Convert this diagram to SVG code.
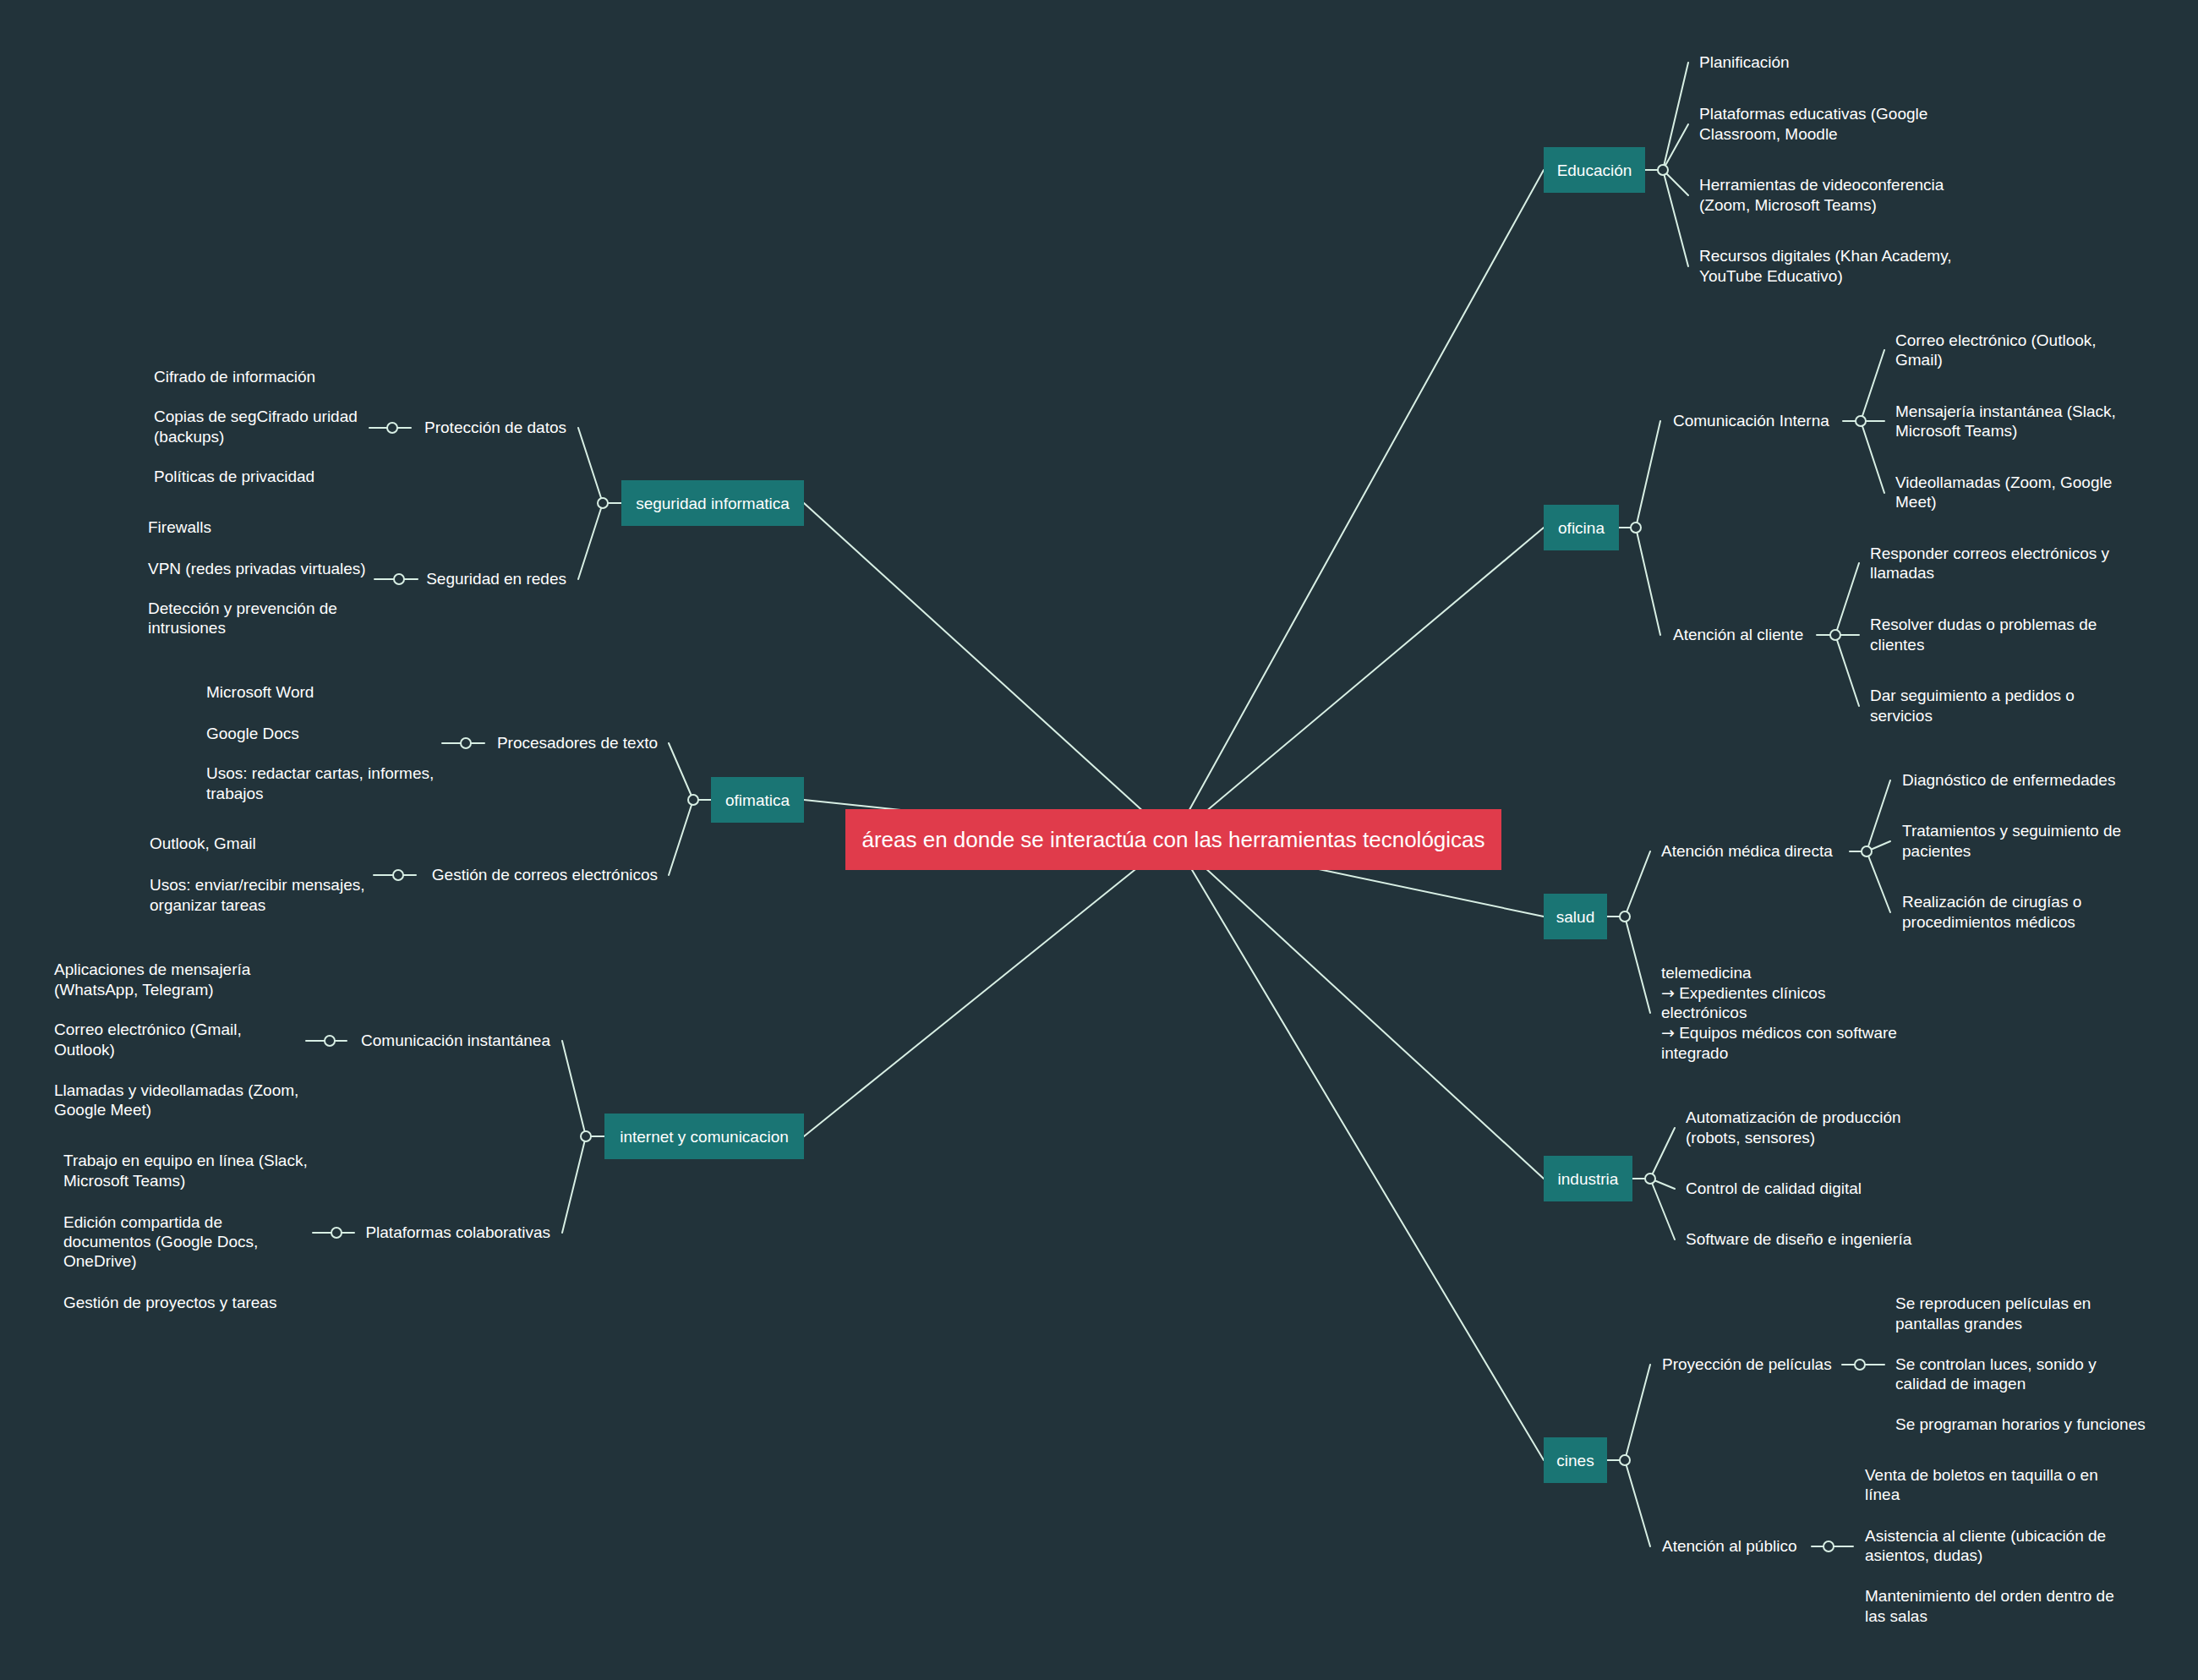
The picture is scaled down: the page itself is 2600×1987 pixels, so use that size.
<svg xmlns="http://www.w3.org/2000/svg" width="2600" height="1987" viewBox="0 0 2600 1987">
<style>
.conn{stroke:#d8efe4;stroke-width:2;fill:none;stroke-linecap:round}
.dot{fill:#22333a;stroke:#d8efe4;stroke-width:2}
.box{fill:#1a7574}
.t{fill:#ffffff;font-family:"Liberation Sans",Arial,sans-serif;font-size:19px}
.e{text-anchor:end}
.c{text-anchor:middle}
.ar{font-family:"DejaVu Sans",sans-serif}
.root{fill:#ffffff;font-family:"Liberation Sans",Arial,sans-serif;font-size:26px;text-anchor:middle}
</style>
<rect x="0" y="0" width="2600" height="1987" fill="#22333a"/>
<g id="connectors">
<path class="conn" d="M1388,992L1826,201M1388,992L1826,624M1388,992L1826,1084M1388,992L1826,1394M1388,992L1826,1727M1388,992L951,595M1388,992L951,946M1388,992L951,1344"/>
<path class="conn" d="M1946,201H1961M1967,201L1997,74M1967,201L1997,147M1967,201L1997,231M1967,201L1997,315"/>
<path class="conn" d="M1915,624H1929M1935,624L1964,498M1935,624L1964,751"/>
<path class="conn" d="M2180,498H2195M2201,498L2229,414M2201,498L2229,498M2201,498L2229,583"/>
<path class="conn" d="M2149,751H2165M2171,751L2199,666M2171,751L2199,751M2171,751L2199,835"/>
<path class="conn" d="M1901,1084H1916M1922,1084L1952,1007M1922,1084L1952,1198"/>
<path class="conn" d="M2188,1007H2202M2208,1007L2236,923M2208,1007L2236,995M2208,1007L2236,1079"/>
<path class="conn" d="M1931,1394H1946M1952,1394L1981,1334M1952,1394L1981,1406M1952,1394L1981,1466"/>
<path class="conn" d="M1901,1727H1916M1922,1727L1952,1614M1922,1727L1952,1829"/>
<path class="conn" d="M2179,1614H2194M2206,1614H2229"/>
<path class="conn" d="M2143,1829H2157M2169,1829H2192"/>
<path class="conn" d="M735,595H719M713,595L684,506M713,595L684,685"/>
<path class="conn" d="M486,506H470M458,506H437"/>
<path class="conn" d="M494,685H478M466,685H443"/>
<path class="conn" d="M841,946H826M820,946L791,879M820,946L791,1035"/>
<path class="conn" d="M573,879H557M545,879H523"/>
<path class="conn" d="M492,1035H477M465,1035H442"/>
<path class="conn" d="M715,1344H699M693,1344L665,1231M693,1344L665,1458"/>
<path class="conn" d="M410,1231H396M384,1231H362"/>
<path class="conn" d="M419,1458H404M392,1458H370"/>
<circle class="dot" cx="1967" cy="201" r="6"/>
<circle class="dot" cx="1935" cy="624" r="6"/>
<circle class="dot" cx="2201" cy="498" r="6"/>
<circle class="dot" cx="2171" cy="751" r="6"/>
<circle class="dot" cx="1922" cy="1084" r="6"/>
<circle class="dot" cx="2208" cy="1007" r="6"/>
<circle class="dot" cx="1952" cy="1394" r="6"/>
<circle class="dot" cx="1922" cy="1727" r="6"/>
<circle class="dot" cx="2200" cy="1614" r="6"/>
<circle class="dot" cx="2163" cy="1829" r="6"/>
<circle class="dot" cx="713" cy="595" r="6"/>
<circle class="dot" cx="464" cy="506" r="6"/>
<circle class="dot" cx="472" cy="685" r="6"/>
<circle class="dot" cx="820" cy="946" r="6"/>
<circle class="dot" cx="551" cy="879" r="6"/>
<circle class="dot" cx="471" cy="1035" r="6"/>
<circle class="dot" cx="693" cy="1344" r="6"/>
<circle class="dot" cx="390" cy="1231" r="6"/>
<circle class="dot" cx="398" cy="1458" r="6"/>
</g>
<g id="root">
<rect x="1000" y="957" width="776" height="72" fill="#e03b4b"/>
<text class="root" x="1388" y="1002">áreas en donde se interactúa con las herramientas tecnológicas</text>
</g>
<g id="educacion">
<rect class="box" x="1826" y="174" width="120" height="54"/>
<text class="t c" x="1886" y="208">Educación</text>
</g>
<g id="educacion-items">
<text class="t" x="2010" y="80">Planificación</text>
<text class="t" x="2010" y="141">Plataformas educativas (Google</text>
<text class="t" x="2010" y="165">Classroom, Moodle</text>
<text class="t" x="2010" y="225">Herramientas de videoconferencia</text>
<text class="t" x="2010" y="249">(Zoom, Microsoft Teams)</text>
<text class="t" x="2010" y="309">Recursos digitales (Khan Academy,</text>
<text class="t" x="2010" y="333">YouTube Educativo)</text>
</g>
<g id="oficina">
<rect class="box" x="1826" y="597" width="89" height="54"/>
<text class="t c" x="1870.5" y="631">oficina</text>
</g>
<g id="comunicacion-interna">
<text class="t" x="1979" y="504">Comunicación Interna</text>
<text class="t" x="2242" y="409">Correo electrónico (Outlook,</text>
<text class="t" x="2242" y="432">Gmail)</text>
<text class="t" x="2242" y="493">Mensajería instantánea (Slack,</text>
<text class="t" x="2242" y="516">Microsoft Teams)</text>
<text class="t" x="2242" y="577">Videollamadas (Zoom, Google</text>
<text class="t" x="2242" y="600">Meet)</text>
</g>
<g id="atencion-cliente">
<text class="t" x="1979" y="757">Atención al cliente</text>
<text class="t" x="2212" y="661">Responder correos electrónicos y</text>
<text class="t" x="2212" y="684">llamadas</text>
<text class="t" x="2212" y="745">Resolver dudas o problemas de</text>
<text class="t" x="2212" y="769">clientes</text>
<text class="t" x="2212" y="829">Dar seguimiento a pedidos o</text>
<text class="t" x="2212" y="853">servicios</text>
</g>
<g id="salud">
<rect class="box" x="1826" y="1057" width="75" height="54"/>
<text class="t c" x="1863.5" y="1091">salud</text>
</g>
<g id="atencion-medica">
<text class="t" x="1965" y="1013">Atención médica directa</text>
<text class="t" x="2250" y="929">Diagnóstico de enfermedades</text>
<text class="t" x="2250" y="989">Tratamientos y seguimiento de</text>
<text class="t" x="2250" y="1013">pacientes</text>
<text class="t" x="2250" y="1073">Realización de cirugías o</text>
<text class="t" x="2250" y="1097">procedimientos médicos</text>
</g>
<g id="telemedicina">
<text class="t" x="1965" y="1157">telemedicina</text>
<text class="t" x="1965" y="1181"><tspan class="ar">→</tspan> Expedientes clínicos</text>
<text class="t" x="1965" y="1204">electrónicos</text>
<text class="t" x="1965" y="1228"><tspan class="ar">→</tspan> Equipos médicos con software</text>
<text class="t" x="1965" y="1252">integrado</text>
</g>
<g id="industria">
<rect class="box" x="1826" y="1367" width="105" height="54"/>
<text class="t c" x="1878.5" y="1401">industria</text>
</g>
<g id="industria-items">
<text class="t" x="1994" y="1328">Automatización de producción</text>
<text class="t" x="1994" y="1352">(robots, sensores)</text>
<text class="t" x="1994" y="1412">Control de calidad digital</text>
<text class="t" x="1994" y="1472">Software de diseño e ingeniería</text>
</g>
<g id="cines">
<rect class="box" x="1826" y="1700" width="75" height="54"/>
<text class="t c" x="1863.5" y="1734">cines</text>
</g>
<g id="proyeccion">
<text class="t" x="1966" y="1620">Proyección de películas</text>
<text class="t" x="2242" y="1548">Se reproducen películas en</text>
<text class="t" x="2242" y="1572">pantallas grandes</text>
<text class="t" x="2242" y="1620">Se controlan luces, sonido y</text>
<text class="t" x="2242" y="1643">calidad de imagen</text>
<text class="t" x="2242" y="1691">Se programan horarios y funciones</text>
</g>
<g id="atencion-publico">
<text class="t" x="1966" y="1835">Atención al público</text>
<text class="t" x="2206" y="1751">Venta de boletos en taquilla o en</text>
<text class="t" x="2206" y="1774">línea</text>
<text class="t" x="2206" y="1823">Asistencia al cliente (ubicación de</text>
<text class="t" x="2206" y="1846">asientos, dudas)</text>
<text class="t" x="2206" y="1894">Mantenimiento del orden dentro de</text>
<text class="t" x="2206" y="1918">las salas</text>
</g>
<g id="seguridad">
<rect class="box" x="735" y="568" width="216" height="54"/>
<text class="t c" x="843" y="602">seguridad informatica</text>
</g>
<g id="proteccion-datos">
<text class="t e" x="670" y="512">Protección de datos</text>
<text class="t" x="182" y="452">Cifrado de información</text>
<text class="t" x="182" y="499">Copias de segCifrado uridad</text>
<text class="t" x="182" y="523">(backups)</text>
<text class="t" x="182" y="570">Políticas de privacidad</text>
</g>
<g id="seguridad-redes">
<text class="t e" x="670" y="691">Seguridad en redes</text>
<text class="t" x="175" y="630">Firewalls</text>
<text class="t" x="175" y="679">VPN (redes privadas virtuales)</text>
<text class="t" x="175" y="726">Detección y prevención de</text>
<text class="t" x="175" y="749">intrusiones</text>
</g>
<g id="ofimatica">
<rect class="box" x="841" y="919" width="110" height="54"/>
<text class="t c" x="896" y="953">ofimatica</text>
</g>
<g id="procesadores">
<text class="t e" x="778" y="885">Procesadores de texto</text>
<text class="t" x="244" y="825">Microsoft Word</text>
<text class="t" x="244" y="874">Google Docs</text>
<text class="t" x="244" y="921">Usos: redactar cartas, informes,</text>
<text class="t" x="244" y="945">trabajos</text>
</g>
<g id="gestion-correos">
<text class="t e" x="778" y="1041">Gestión de correos electrónicos</text>
<text class="t" x="177" y="1004">Outlook, Gmail</text>
<text class="t" x="177" y="1053">Usos: enviar/recibir mensajes,</text>
<text class="t" x="177" y="1077">organizar tareas</text>
</g>
<g id="internet">
<rect class="box" x="715" y="1317" width="236" height="54"/>
<text class="t c" x="833" y="1351">internet y comunicacion</text>
</g>
<g id="comunicacion-instantanea">
<text class="t e" x="651" y="1237">Comunicación instantánea</text>
<text class="t" x="64" y="1153">Aplicaciones de mensajería</text>
<text class="t" x="64" y="1177">(WhatsApp, Telegram)</text>
<text class="t" x="64" y="1224">Correo electrónico (Gmail,</text>
<text class="t" x="64" y="1248">Outlook)</text>
<text class="t" x="64" y="1296">Llamadas y videollamadas (Zoom,</text>
<text class="t" x="64" y="1319">Google Meet)</text>
</g>
<g id="plataformas-colaborativas">
<text class="t e" x="651" y="1464">Plataformas colaborativas</text>
<text class="t" x="75" y="1379">Trabajo en equipo en línea (Slack,</text>
<text class="t" x="75" y="1403">Microsoft Teams)</text>
<text class="t" x="75" y="1452">Edición compartida de</text>
<text class="t" x="75" y="1475">documentos (Google Docs,</text>
<text class="t" x="75" y="1498">OneDrive)</text>
<text class="t" x="75" y="1547">Gestión de proyectos y tareas</text>
</g>
</svg>
